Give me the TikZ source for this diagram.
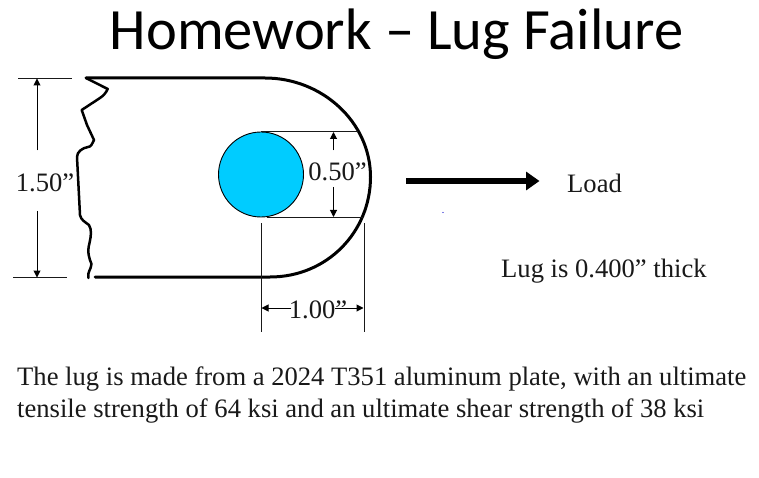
\documentclass[tikz,border=0pt]{standalone}
\usepackage{fontspec}
\setmainfont{Liberation Serif}
\newfontfamily\titlefont{Carlito}
\usetikzlibrary{arrows.meta}
\tikzset{
  x=1pt,y=-1pt,
  outline/.style={line width=3pt,line join=round,line cap=round,black},
  thin line/.style={line width=1pt,draw=black!90},
  dimarrow/.style={line width=1pt,draw=black,-{Triangle[length=7pt,width=7pt]}},
  labeltext/.style={font=\fontsize{26.6pt}{30pt}\selectfont,inner sep=0pt,text=black!90},
  loadarrow/.style={line width=6.3pt,draw=black,-{Triangle[length=13.5pt,width=18pt,sep=0pt]}},
}
\begin{document}
\begin{tikzpicture}
\useasboundingbox[fill=white] (0,0) rectangle (759,478);
\node[anchor=base,inner sep=0pt,font=\titlefont\fontsize{58.5pt}{60pt}\selectfont] (title) at (396.5,50) {Homework – Lug Failure};
% lug outline
\coordinate (tl) at (86,78);
\coordinate (tr) at (265,78);
\coordinate (bl) at (95,277);
\coordinate (br) at (270,277);
\draw[outline] (tl) -- (tr) .. controls (322,78) and (370.5,122) .. (370.5,177) .. controls (370.5,232) and (327,277) .. (br) -- (bl);
\draw[outline,line width=2.5pt] (tl) -- (107.7,89) .. controls (106,93) and (103,96) .. (100,98) -- (81.7,110) -- (87,125) -- (94,140) .. controls (92,144) and (91,147) .. (88,147)
  .. controls (82,148) and (77,152) .. (77,157) -- (80,215) .. controls (81,220) and (85,222) .. (89,225)
  .. controls (92,230) and (91,236) .. (89.5,243) .. controls (87,252) and (89,258) .. (91.5,264) .. controls (91,270) and (87,272) .. (88.5,278);
% pin
\node[circle,draw=black,line width=0.9pt,fill={rgb,255:red,0;green,204;blue,255},minimum size=85pt,inner sep=0pt] (pin) at (261,174.5) {};
% hole-width extension lines
\coordinate (ht1) at (261,132);
\coordinate (ht2) at (358,132);
\coordinate (hb1) at (267,217);
\coordinate (hb2) at (363,217);
\draw[thin line] (ht1) -- (ht2);
\draw[thin line] (hb1) -- (hb2);
% 0.50 dimension
\node[labeltext,anchor=base] (d50) at (337.5,180.5) {0.50”};
\coordinate (d50t) at (333.5,132);
\coordinate (d50b) at (333.5,217);
\coordinate (d50tm) at (333.5,150.5);
\coordinate (d50bm) at (333.5,187);
\draw[dimarrow] (d50tm) -- (d50t);
\draw[dimarrow] (d50bm) -- (d50b);
% 1.00 dimension
\coordinate (e1t) at (261,223);
\coordinate (e1b) at (261,332);
\coordinate (e2t) at (364,223);
\coordinate (e2b) at (364,332);
\draw[thin line] (e1t) -- (e1b);
\draw[thin line] (e2t) -- (e2b);
\node[labeltext,anchor=base] (d100) at (318,318.5) {1.00”};
\coordinate (d100l) at (261.5,308);
\coordinate (d100r) at (363.5,308);
\coordinate (d100lm) at (291,308);
\coordinate (d100rm) at (335,308);
\draw[dimarrow] (d100lm) -- (d100l);
\draw[dimarrow] (d100rm) -- (d100r);
% 1.50 dimension
\coordinate (x1a) at (18,78.5);
\coordinate (x1b) at (72,78.5);
\coordinate (x2a) at (13,277.5);
\coordinate (x2b) at (67,277.5);
\draw[thin line] (x1a) -- (x1b);
\draw[thin line] (x2a) -- (x2b);
\node[labeltext,anchor=base] (d150) at (45,191.5) {1.50”};
\coordinate (d150t) at (37,78.5);
\coordinate (d150b) at (37,277.5);
\coordinate (d150tm) at (37,150.5);
\coordinate (d150bm) at (37,211);
\draw[dimarrow] (d150tm) -- (d150t);
\draw[dimarrow] (d150bm) -- (d150b);
% load
\coordinate (loadtail) at (406,181);
\coordinate (loadhead) at (539.5,181);
\draw[loadarrow] (loadtail) -- (loadhead);
\node[labeltext,anchor=base west] (load) at (567,192.5) {Load};
\node[labeltext,anchor=base west] (thick) at (501,277) {Lug is 0.400” thick};
\node[labeltext,anchor=base west] (p1) at (17,385) {The lug is made from a 2024 T351 aluminum plate, with an ultimate};
\node[labeltext,anchor=base west] (p2) at (17,417) {tensile strength of 64 ksi and an ultimate shear strength of 38 ksi};
\fill[blue!80!black] (443,212.5) circle (0.7pt);
\end{tikzpicture}
\end{document}
